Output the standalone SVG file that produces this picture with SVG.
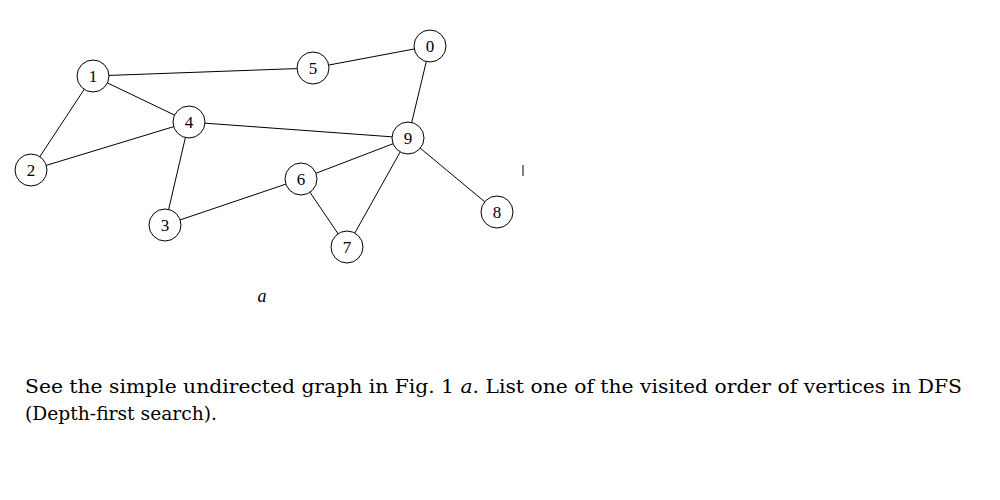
<svg xmlns="http://www.w3.org/2000/svg" width="1000" height="500" viewBox="0 0 1000 500">
<style>
.n circle{fill:#fff;stroke:#000;stroke-width:1}
.n text{font-family:"Liberation Serif",serif;font-size:17px;text-anchor:middle;dominant-baseline:central}
#edges line{stroke:#000;stroke-width:1}
.t{font-family:"DejaVu Serif","Liberation Serif",serif;font-size:19px}
</style>
<rect width="1000" height="500" fill="#fff"/>
<g id="edges">
<line x1="93" y1="76" x2="313" y2="68"/>
<line x1="313" y1="68" x2="430" y2="46"/>
<line x1="430" y1="46" x2="408" y2="138"/>
<line x1="93" y1="76" x2="189" y2="122"/>
<line x1="93" y1="76" x2="31" y2="170"/>
<line x1="31" y1="170" x2="189" y2="122"/>
<line x1="189" y1="122" x2="408" y2="138"/>
<line x1="189" y1="122" x2="165" y2="225"/>
<line x1="165" y1="225" x2="301" y2="179"/>
<line x1="301" y1="179" x2="408" y2="138"/>
<line x1="301" y1="179" x2="347" y2="247"/>
<line x1="347" y1="247" x2="408" y2="138"/>
<line x1="408" y1="138" x2="497" y2="212"/>
</g>
<g id="n0" class="n"><circle cx="430" cy="46" r="16"/><text x="430" y="46">0</text></g>
<g id="n1" class="n"><circle cx="93" cy="76" r="16"/><text x="93" y="76">1</text></g>
<g id="n5" class="n"><circle cx="313" cy="68" r="16"/><text x="313" y="68">5</text></g>
<g id="n4" class="n"><circle cx="189" cy="122" r="16"/><text x="189" y="122">4</text></g>
<g id="n9" class="n"><circle cx="408" cy="138" r="16"/><text x="408" y="138">9</text></g>
<g id="n2" class="n"><circle cx="31" cy="170" r="16"/><text x="31" y="170">2</text></g>
<g id="n6" class="n"><circle cx="301" cy="179" r="16"/><text x="301" y="179">6</text></g>
<g id="n8" class="n"><circle cx="497" cy="212" r="16"/><text x="497" y="212">8</text></g>
<g id="n3" class="n"><circle cx="165" cy="225" r="16"/><text x="165" y="225">3</text></g>
<g id="n7" class="n"><circle cx="347" cy="247" r="16"/><text x="347" y="247">7</text></g>
<line x1="523" y1="165" x2="523" y2="176" stroke="#000" stroke-width="1"/>
<text x="262" y="302" font-family="Liberation Serif,serif" font-style="italic" font-size="18" text-anchor="middle">a</text>
<text class="t" x="25" y="393" textLength="937" lengthAdjust="spacingAndGlyphs">See the simple undirected graph in Fig. 1 <tspan font-style="italic">a</tspan>. List one of the visited order of vertices in DFS</text>
<text class="t" x="25" y="420" textLength="192" lengthAdjust="spacingAndGlyphs">(Depth-first search).</text>
</svg>
